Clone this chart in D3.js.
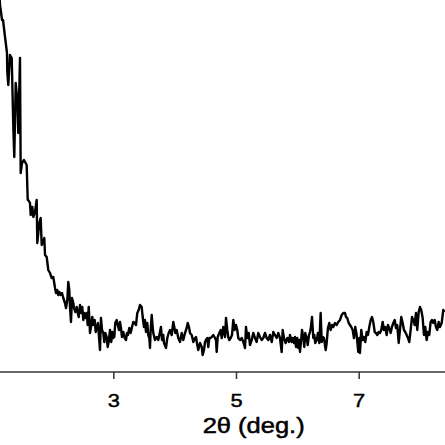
<!DOCTYPE html>
<html>
<head>
<meta charset="utf-8">
<script src="https://cdn.jsdelivr.net/npm/d3@7"></script>
<style>
  html, body { margin: 0; padding: 0; background: #fff; }
  svg { display: block; }
</style>
</head>
<body>
<div id="chart"></div>
<script>
// 2θ (deg.) values of the traced XRD pattern
const twoTheta = [
  1.137,
  1.153,1.169,1.186,1.202,1.235,1.267,1.272,1.288,1.316,1.344,
  1.370,1.386,1.409,1.435,1.451,1.479,1.490,1.512,1.544,1.588,1.605,
  1.614,1.642,1.653,1.680,1.696,1.723,1.751,1.761,1.794,1.816,
  1.833,1.859,1.875,1.887,1.914,1.940,
  1.968,1.996,2.022,2.050,2.066,2.087,2.103,2.120,2.142,2.164,
  2.185,2.212,2.229,2.250,2.266,2.283,2.294,2.310,2.327,2.348,
  2.359,2.380,2.403,2.420,2.436,2.457,2.478,2.494,2.511,2.527,
  2.550,2.566,2.582,2.599,2.609,2.620,2.636,2.657,2.674,2.697,
  2.713,2.729,2.750,2.767,2.783,2.799,2.816,2.837,2.853,2.869,
  2.892,2.908,2.925,2.946,2.967,2.983,3.000,3.016,3.032,3.055,
  3.072,3.093,3.109,3.125,3.142,3.163,3.186,3.207,3.223,3.239,
  3.261,3.283,3.305,3.326,3.349,3.370,3.391,3.414,
  3.435,3.463,3.479,3.500,3.516,3.533,3.554,3.570,3.587,3.598,
  3.609,3.626,3.642,3.652,3.679,3.707,3.733,3.761,3.777,3.794,
  3.815,3.826,3.859,3.880,3.903,3.924,3.952,3.978,3.994,4.011,
  4.033,4.059,4.087,4.115,4.141,4.169,4.196,4.213,4.234,4.250,
  4.278,4.304,4.332,4.348,4.369,4.385,4.413,4.441,4.457,4.478,
  4.495,4.511,4.532,4.548,4.565,4.587,4.604,4.630,4.658,4.674,
  4.685,4.702,4.728,4.751,4.767,4.793,4.821,4.837,4.858,4.874,
  4.891,4.913,4.935,4.956,4.979,5.000,5.021,5.037,5.065,5.093,
  5.119,5.147,5.163,5.184,5.207,5.228,5.256,5.282,5.310,5.337,
  5.363,5.391,5.419,5.445,5.473,5.500,5.526,5.554,5.582,5.608,
  5.635,5.663,5.689,5.717,5.745,5.761,5.782,5.810,5.836,5.864,
  5.880,5.908,5.924,5.945,5.962,5.978,5.999,6.015,6.032,6.043,
  6.059,6.076,6.097,6.113,6.129,6.152,6.169,6.190,6.206,6.222,
  6.239,6.260,6.276,6.292,6.315,6.336,6.358,6.380,6.397,6.413,
  6.434,6.462,6.478,6.499,6.521,6.543,6.565,6.586,6.614,6.641,
  6.667,6.695,6.723,6.749,6.777,6.793,6.814,6.837,6.858,6.879,
  6.902,6.923,6.944,6.967,6.993,7.010,7.021,7.042,7.065,7.086,
  7.107,7.130,7.151,7.173,7.196,7.217,7.238,7.261,7.282,7.303,
  7.326,7.347,7.368,7.391,7.412,7.433,7.456,7.477,7.498,7.521,
  7.542,7.564,7.587,7.608,7.629,7.652,7.673,7.694,7.717,7.738,
  7.759,7.782,7.803,7.824,7.847,7.869,7.890,7.913,7.934,7.955,
  7.978,7.999,8.020,8.043,8.064,8.085,8.108,8.129,8.150,8.173,
  8.195,8.216,8.239,8.260,8.281,8.304,8.325,8.353,8.379,8.395
];

// Intensity (a.u.) at each 2θ value
const intensity = [
  385,
  367,360,352,352,335,319,300,287,317,314,
  245,215,289,272,239,314,199,209,212,207,172,
  172,169,157,165,155,160,172,129,149,154,
  127,130,134,117,115,102,
  99,94,95,84,79,82,77,80,77,79,
  74,69,64,72,90,82,65,50,74,69,
  64,60,65,59,55,67,59,65,52,59,
  54,59,47,65,54,39,45,55,47,52,
  40,45,49,35,22,54,42,39,30,39,
  35,25,30,42,30,40,34,35,49,52,
  47,42,50,44,35,40,34,32,39,37,
  44,39,45,50,49,47,59,62,
  67,65,55,45,52,40,49,37,34,24,
  42,57,45,39,32,35,32,40,45,32,
  37,29,24,34,39,42,37,50,45,39,
  42,34,30,39,32,39,44,49,45,39,
  37,30,34,35,27,22,29,25,17,22,
  30,32,34,25,34,34,35,37,34,32,
  20,35,39,42,34,45,35,54,42,35,
  32,34,37,52,42,47,42,34,32,34,
  30,24,45,34,39,27,32,39,34,30,
  39,35,32,34,39,34,32,37,30,40,
  37,34,39,34,20,42,34,29,34,30,
  37,30,34,29,35,25,34,24,32,20,
  30,42,35,25,39,34,27,37,40,45,
  55,34,37,29,32,39,29,59,30,35,
  34,22,29,44,49,42,47,45,49,47,
  50,52,57,59,59,55,54,49,47,45,
  42,34,45,37,20,34,19,42,32,35,
  30,40,37,45,52,55,50,40,39,37,
  40,39,42,50,42,45,37,47,44,39,
  45,49,52,44,47,29,42,55,49,42,
  40,37,34,30,42,55,52,47,59,42,
  60,65,62,54,37,45,32,40,37,50,
  52,49,52,45,42,50,45,49,62,60
];

const xTicks = [3, 5, 7];
const xTickLabels = ["3", "5", "7"];
const xTitle = "2θ (deg.)";

const W = 445, H = 445;
const axisY = 372;

const svg = d3.select("#chart").append("svg")
  .attr("width", W).attr("height", H)
  .style("background", "#fff");

const x = d3.scaleLinear().domain([1.153, 8.407]).range([0, W]);
const y = d3.scaleLinear().domain([0, 372]).range([axisY, 0]);

const data = d3.zip(twoTheta, intensity);

// pattern line
svg.append("path")
  .datum(data)
  .attr("fill", "none")
  .attr("stroke", "#000")
  .attr("stroke-width", 2.4)
  .attr("stroke-linejoin", "round")
  .attr("d", d3.line().x(d => x(d[0])).y(d => y(d[1])));

// x axis
const xAxis = d3.axisBottom(x)
  .tickValues(xTicks)
  .tickFormat((d, i) => xTickLabels[i])
  .tickSize(7)
  .tickPadding(15)
  .tickSizeOuter(0);

const gx = svg.append("g")
  .attr("transform", `translate(0,${axisY})`)
  .call(xAxis);

gx.select(".domain")
  .attr("stroke", "#333")
  .attr("stroke-width", 1.6)
  .attr("d", `M${-5},0H${W + 5}`);
gx.selectAll(".tick line").attr("stroke", "#333").attr("stroke-width", 1.5);
gx.selectAll(".tick text")
  .attr("fill", "#000")
  .attr("stroke", "#000")
  .attr("stroke-width", 0.45)
  .attr("dy", null)
  .attr("y", 35.5)
  .attr("transform", "scale(1.15,1)")
  .style("font-family", "'Liberation Sans', Arial, sans-serif")
  .style("font-size", "19px");

// axis title
svg.append("text")
  .attr("x", 253.7)
  .attr("y", 432.7)
  .attr("text-anchor", "middle")
  .attr("textLength", 102)
  .attr("lengthAdjust", "spacingAndGlyphs")
  .attr("stroke", "#000")
  .attr("stroke-width", 0.5)
  .style("font-family", "'Liberation Sans', Arial, sans-serif")
  .style("font-size", "22px")
  .attr("fill", "#000")
  .text(xTitle);
</script>
</body>
</html>
